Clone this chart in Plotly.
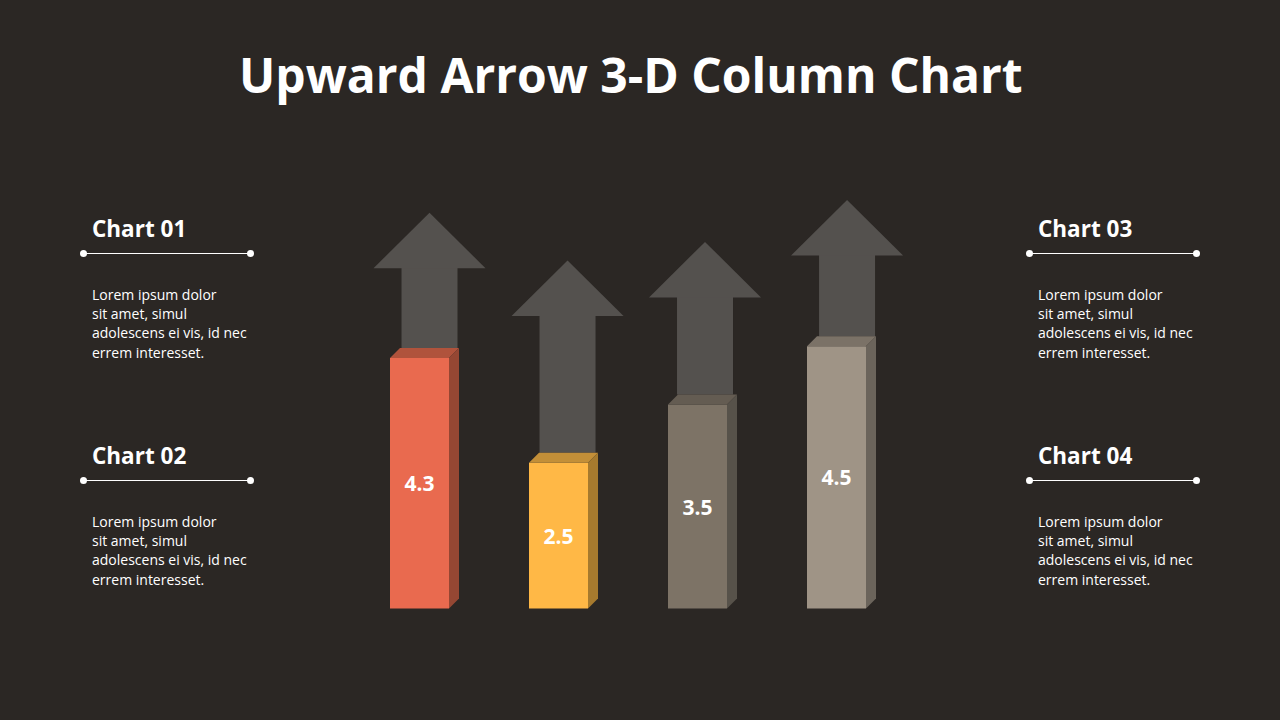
import plotly.graph_objects as go

categories = [0, 1, 2, 3]
values = [4.3, 2.5, 3.5, 4.5]
value_labels = ['4.3', '2.5', '3.5', '4.5']
arrow_tips = [6.79, 5.97, 6.29, 7.01]
arrow_shift = [0.072, 0.065, 0.054, 0.076]

front_colors = ['#e96a4f', '#ffb846', '#7d7366', '#9f9486']
top_colors = ['#b0533c', '#c38f38', '#645c52', '#7b7267']
side_colors = ['#954733', '#a67a2e', '#57524a', '#6b645b']

panel_names = ['Chart 01', 'Chart 02', 'Chart 03', 'Chart 04']
lorem_lines = ['Lorem ipsum dolor', 'sit amet, simul', 'adolescens ei vis, id nec', 'errem interesset.']

BG = '#2b2724'
ARROW = '#54514e'
W, H = 1280, 720
BASE_Y = 608.6   # px of value 0
X_UNIT = 139.0   # px per category
Y_UNIT = 58.3    # px per value unit
BAR_W = 59 / X_UNIT
DX = 10 / X_UNIT   # fake 3d depth
DY = 10 / Y_UNIT
SHAFT_W = 56 / X_UNIT
HEAD_W = 112 / X_UNIT
HEAD_H = 55.5 / Y_UNIT
OVERLAP = 2 / Y_UNIT  # hides the seam between shaft and head


def px(x):
    return x / W


def py(y):
    return 1 - y / H


fig = go.Figure()

# arrow shafts
shaft_x = [c + s for c, s in zip(categories, arrow_shift)]
fig.add_trace(go.Bar(
    x=shaft_x,
    y=[t - HEAD_H + OVERLAP - v - DY for t, v in zip(arrow_tips, values)],
    base=[v + DY for v in values],
    width=SHAFT_W,
    marker_color=ARROW,
    marker_line_width=0,
    hoverinfo='skip',
))

# front of the columns
fig.add_trace(go.Bar(
    x=categories,
    y=values,
    width=BAR_W,
    marker_color=front_colors,
    marker_line_width=0,
    text=value_labels,
    textposition='inside',
    insidetextanchor='middle',
    textangle=0,
    textfont=dict(family='Open Sans', size=21, color='white', weight='bold'),
    hoverinfo='skip',
))

# arrow heads, top and side faces
for i, c in enumerate(categories):
    v = values[i]
    left = c - BAR_W / 2
    right = c + BAR_W / 2
    fig.add_trace(go.Scatter(
        x=[shaft_x[i] - HEAD_W / 2, shaft_x[i], shaft_x[i] + HEAD_W / 2],
        y=[arrow_tips[i] - HEAD_H, arrow_tips[i], arrow_tips[i] - HEAD_H],
        fill='toself', fillcolor=ARROW, mode='none', hoverinfo='skip',
    ))
    fig.add_trace(go.Scatter(
        x=[left, right, right + DX, left + DX],
        y=[v, v, v + DY, v + DY],
        fill='toself', fillcolor=top_colors[i], mode='none', hoverinfo='skip',
    ))
    fig.add_trace(go.Scatter(
        x=[right, right + DX, right + DX, right],
        y=[0, DY, v + DY, v],
        fill='toself', fillcolor=side_colors[i], mode='none', hoverinfo='skip',
    ))

fig.add_annotation(
    text='Upward Arrow 3-D Column Chart',
    x=px(631), y=py(75), xref='paper', yref='paper',
    xanchor='center', yanchor='middle', showarrow=False,
    font=dict(family='Open Sans', size=48, color='white', weight='bold'),
)

# side panels
panel_x = [92, 92, 1038, 1038]
panel_y = [228, 455, 228, 455]
line_offsets = [66, 85, 104, 124]
for name, x0, y0 in zip(panel_names, panel_x, panel_y):
    fig.add_annotation(
        text=name, x=px(x0 - 2), y=py(y0), xref='paper', yref='paper',
        xanchor='left', yanchor='middle', showarrow=False,
        font=dict(family='Open Sans', size=22.5, color='white', weight='bold'),
    )
    for line, off in zip(lorem_lines, line_offsets):
        fig.add_annotation(
            text=line, x=px(x0 - 2), y=py(y0 + off), xref='paper', yref='paper',
            xanchor='left', yanchor='middle', showarrow=False,
            font=dict(family='Open Sans', size=14, color='white'),
        )
    ly = y0 + 25.5
    fig.add_shape(type='line', xref='paper', yref='paper',
                  x0=px(x0 - 8.5), x1=px(x0 + 158.5), y0=py(ly), y1=py(ly),
                  line=dict(color='white', width=1))
    for dot in (x0 - 8.5, x0 + 158.5):
        fig.add_shape(type='circle', xref='paper', yref='paper',
                      x0=px(dot - 3.5), x1=px(dot + 3.5), y0=py(ly - 3.5), y1=py(ly + 3.5),
                      fillcolor='white', line_width=0)

fig.update_layout(
    width=W,
    height=H,
    margin=dict(l=0, r=0, t=0, b=0),
    paper_bgcolor=BG,
    plot_bgcolor=BG,
    barmode='overlay',
    showlegend=False,
    xaxis=dict(visible=False, range=[-419.5 / X_UNIT, (W - 419.5) / X_UNIT]),
    yaxis=dict(visible=False, range=[-(H - BASE_Y) / Y_UNIT, BASE_Y / Y_UNIT]),
)

fig.write_html('out.html', config={'displayModeBar': False},
               post_script="document.body.style.margin='0';document.body.style.background='%s';" % BG)
